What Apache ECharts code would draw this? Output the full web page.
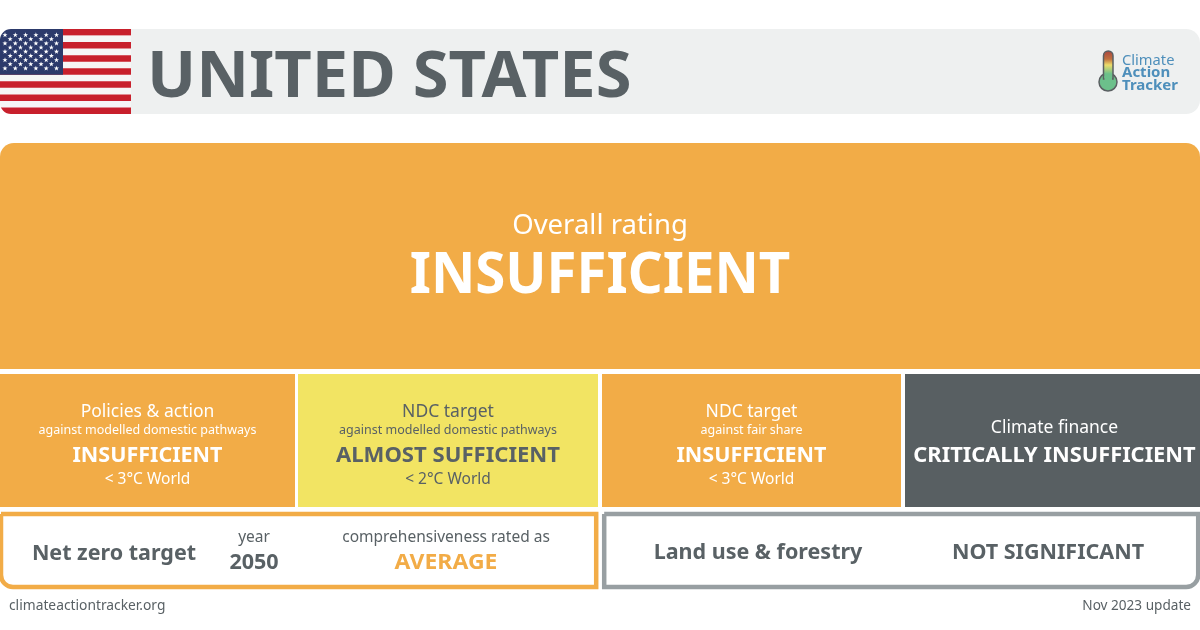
<!DOCTYPE html>
<html>
<head>
<meta charset="utf-8">
<title>United States</title>
<script src="https://cdn.jsdelivr.net/npm/echarts@6/dist/echarts.min.js"></script>
<style>
html, body { margin: 0; padding: 0; background: #fff; }
#main { width: 1200px; height: 630px; }
</style>
</head>
<body>
<div id="main"></div>
<script>
var country = 'UNITED STATES';
var overallLabel = 'Overall rating';
var overallRating = 'INSUFFICIENT';
var panelTitles = ['Policies & action', 'NDC target', 'NDC target', 'Climate finance'];
var panelSubs = ['against modelled domestic pathways', 'against modelled domestic pathways', 'against fair share', ''];
var panelRatings = ['INSUFFICIENT', 'ALMOST SUFFICIENT', 'INSUFFICIENT', 'CRITICALLY INSUFFICIENT'];
var panelWorlds = ['< 3°C World', '< 2°C World', '< 3°C World', ''];
var logoWords = ['Climate', 'Action', 'Tracker'];
var netZeroYear = '2050';
var netZeroRating = 'AVERAGE';
var landRating = 'NOT SIGNIFICANT';

var FONT = '"Noto Sans", sans-serif';
var ORANGE = '#f2ac47', YELLOW = '#f2e463', DARK = '#585f62', GREY = '#989fa2', INK = '#596165';

function txt(text, x, y, size, color, weight, align, sx) {
	return {
		type: 'text',
		x: x, y: y + size * 0.09,
		scaleX: sx || 1,
		style: {
			text: text,
			fill: color,
			font: (weight || 400) + ' ' + size + 'px ' + FONT,
			textAlign: align || 'center',
			textVerticalAlign: 'middle'
		}
	};
}
function box(x, y, w, h, fill, r) {
	return { type: 'rect', shape: { x: x, y: y, width: w, height: h, r: r || 0 }, style: { fill: fill } };
}
function frame(x, y, w, h, color, r) {
	return { type: 'rect', shape: { x: x, y: y, width: w, height: h, r: r }, style: { fill: '#fff', stroke: color, lineWidth: 4.5 } };
}
function star(cx, cy, R) {
	var pts = [];
	for (var i = 0; i < 10; i++) {
		var a = -Math.PI / 2 + i * Math.PI / 5;
		var rad = i % 2 ? R * 0.4 : R;
		pts.push([cx + rad * Math.cos(a), cy + rad * Math.sin(a)]);
	}
	return { type: 'polygon', shape: { points: pts }, style: { fill: '#fff' } };
}

var els = [];

// flag
var flagTop = 29, stripeH = 85 / 13;
for (var i = 0; i < 13; i++) {
	els.push(box(0, flagTop + i * stripeH, 131, stripeH + 0.3, i % 2 ? '#f6f6f6' : '#c8202c'));
}
els.push(box(0, flagTop, 63, stripeH * 7, '#2c3a6b'));
for (var row = 0; row < 9; row++) {
	var n = row % 2 ? 5 : 6;
	for (var c = 0; c < n; c++) {
		els.push(star(5 + (row % 2 ? 5.15 : 0) + c * 10.3, flagTop + 6 + row * 4.17, 2.7));
	}
}
// round the flag's left corners, the right end of this goes under the header
els.push({ type: 'rect', shape: { x: -7, y: flagTop - 7, width: 175, height: 99, r: 18 }, style: { fill: 'none', stroke: '#fff', lineWidth: 14 } });

// header
els.push(box(131, 29, 1069, 85, '#eef0f0', [0, 14, 14, 0]));
els.push(txt(country, 147, 72.5, 65, INK, 700, 'left'));

// logo
els.push({ type: 'circle', shape: { cx: 1108, cy: 82, r: 9 }, style: { fill: '#6cc08b', stroke: '#5a5f62', lineWidth: 1.5 } });
els.push({
	type: 'rect',
	shape: { x: 1103.5, y: 51, width: 9.5, height: 28, r: [5, 5, 0, 0] },
	style: {
		stroke: '#5a5f62', lineWidth: 1.5,
		fill: { type: 'linear', x: 0, y: 0, x2: 0, y2: 1, colorStops: [
			{ offset: 0, color: '#a8433f' }, { offset: 0.3, color: '#c0703f' },
			{ offset: 0.5, color: '#ecdc6a' }, { offset: 0.8, color: '#6cc08b' }, { offset: 1, color: '#6cc08b' }
		] }
	}
});
els.push(box(1104.5, 76, 7.5, 6, '#6cc08b'));
els.push(txt(logoWords[0], 1122, 59, 14.7, '#4e8fbb', 400, 'left'));
els.push(txt(logoWords[1], 1122, 71.5, 15, '#4e8fbb', 700, 'left'));
els.push(txt(logoWords[2], 1122, 84, 15, '#4e8fbb', 700, 'left'));

// overall rating
els.push(box(0, 143, 1200, 226, ORANGE, [14, 14, 0, 0]));
els.push(txt(overallLabel, 600, 224, 27.5, '#fff', 400));
els.push(txt(overallRating, 600, 272, 57, '#fff', 700, 'center', 0.957));

// four rating panels
var panelX = [0, 298, 602, 905], panelW = [295, 300, 299, 295];
var panelFill = [ORANGE, YELLOW, ORANGE, DARK];
var panelInk = ['#fff', INK, '#fff', '#fff'];
var ratingScale = [1, 1.027, 1, 1.015];
panelTitles.forEach(function (t, i) {
	var cx = panelX[i] + panelW[i] / 2;
	var textX = i === 3 ? cx + 2 : cx;
	var col = panelInk[i];
	var thin = i === 1 ? INK : '#fff';
	els.push(box(panelX[i], 374, panelW[i], 133, panelFill[i]));
	if (panelSubs[i]) {
		els.push(txt(t, textX, 410, 17.5, thin, 400));
		els.push(txt(panelSubs[i], textX, 429.5, 12.5, thin, 400));
		els.push(txt(panelWorlds[i], textX, 478, 15.5, thin, 400));
	} else {
		els.push(txt(t, textX, 426, 17.5, thin, 400));
	}
	els.push(txt(panelRatings[i], textX, 454, 21.5, col, 700, 'center', ratingScale[i]));
});

// bottom strips
els.push(frame(1, 514, 595.2, 73, ORANGE, [0, 0, 0, 12]));
els.push(frame(604.2, 514, 594, 73, GREY, [0, 0, 12, 0]));
els.push(txt('Net zero target', 114, 552, 21.5, INK, 700));
els.push(txt('year', 254, 536, 15.5, INK, 400));
els.push(txt(netZeroYear, 254, 561, 21.5, INK, 700));
els.push(txt('comprehensiveness rated as', 446, 536, 15.5, INK, 400));
els.push(txt(netZeroRating, 446, 561, 21.5, ORANGE, 700, 'center', 1.07));
els.push(txt('Land use & forestry', 758, 551, 21.5, INK, 700));
els.push(txt(landRating, 1048, 551, 21.5, INK, 700));

// footer
els.push(txt('climateactiontracker.org', 9, 605, 13.8, INK, 400, 'left'));
els.push(txt('Nov 2023 update', 1191, 605, 13.6, INK, 400, 'right'));

var myChart = echarts.init(document.getElementById('main'));
myChart.setOption({
	animation: false,
	backgroundColor: '#fff',
	graphic: { elements: els }
});
</script>
</body>
</html>
